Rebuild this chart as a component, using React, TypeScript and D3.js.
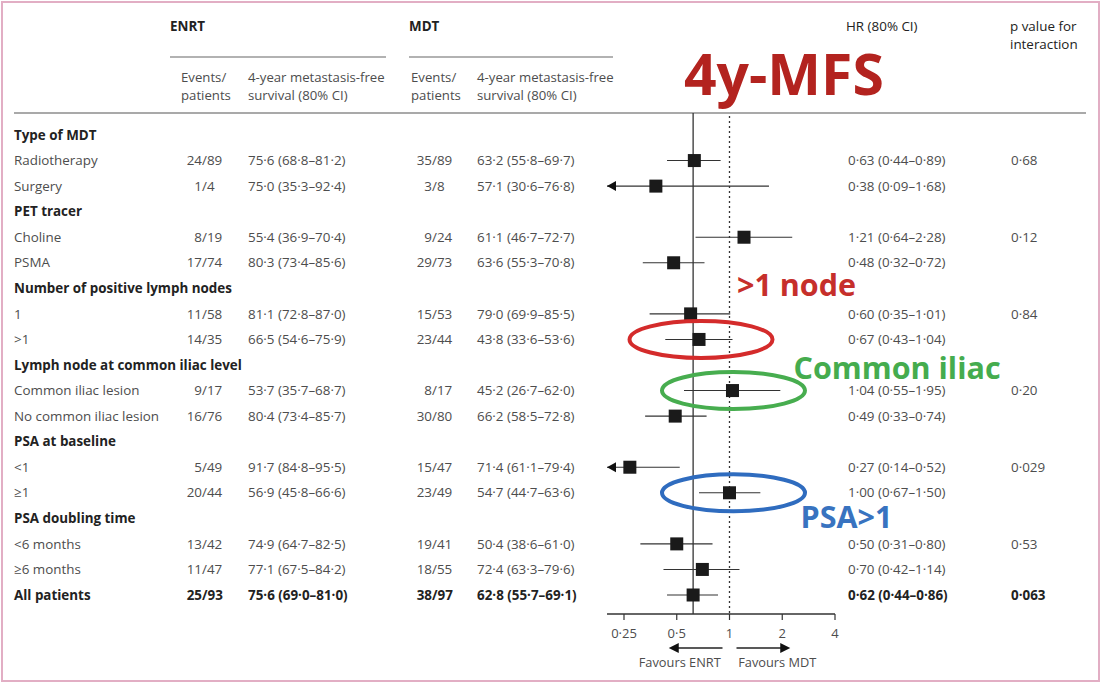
import React, { useEffect, useRef } from "react";
import * as d3 from "d3";

// subgroup rows, in drawing order
const groupNames = [
  "Type of MDT",
  "PET tracer",
  "Number of positive lymph nodes",
  "Lymph node at common iliac level",
  "PSA at baseline",
  "PSA doubling time",
];
const subgroups = [
  "Radiotherapy", "Surgery",
  "Choline", "PSMA",
  "1", ">1",
  "Common iliac lesion", "No common iliac lesion",
  "<1", "≥1",
  "<6 months", "≥6 months",
  "All patients",
];
const groupOf = [0, 0, 1, 1, 2, 2, 3, 3, 4, 4, 5, 5, -1];

const enrtEvents = [24, 1, 8, 17, 11, 14, 9, 16, 5, 20, 13, 11, 25];
const enrtPatients = [89, 4, 19, 74, 58, 35, 17, 76, 49, 44, 42, 47, 93];
const enrtMfs = [75.6, 75.0, 55.4, 80.3, 81.1, 66.5, 53.7, 80.4, 91.7, 56.9, 74.9, 77.1, 75.6];
const enrtMfsLo = [68.8, 35.3, 36.9, 73.4, 72.8, 54.6, 35.7, 73.4, 84.8, 45.8, 64.7, 67.5, 69.0];
const enrtMfsHi = [81.2, 92.4, 70.4, 85.6, 87.0, 75.9, 68.7, 85.7, 95.5, 66.6, 82.5, 84.2, 81.0];

const mdtEvents = [35, 3, 9, 29, 15, 23, 8, 30, 15, 23, 19, 18, 38];
const mdtPatients = [89, 8, 24, 73, 53, 44, 17, 80, 47, 49, 41, 55, 97];
const mdtMfs = [63.2, 57.1, 61.1, 63.6, 79.0, 43.8, 45.2, 66.2, 71.4, 54.7, 50.4, 72.4, 62.8];
const mdtMfsLo = [55.8, 30.6, 46.7, 55.3, 69.9, 33.6, 26.7, 58.5, 61.1, 44.7, 38.6, 63.3, 55.7];
const mdtMfsHi = [69.7, 76.8, 72.7, 70.8, 85.5, 53.6, 62.0, 72.8, 79.4, 63.6, 61.0, 79.6, 69.1];

const hr = [0.63, 0.38, 1.21, 0.48, 0.60, 0.67, 1.04, 0.49, 0.27, 1.00, 0.50, 0.70, 0.62];
const hrLo = [0.44, 0.09, 0.64, 0.32, 0.35, 0.43, 0.55, 0.33, 0.14, 0.67, 0.31, 0.42, 0.44];
const hrHi = [0.89, 1.68, 2.28, 0.72, 1.01, 1.04, 1.95, 0.74, 0.52, 1.50, 0.80, 1.14, 0.86];
const pInteraction = ["0·68", "", "0·12", "", "0·84", "", "0·20", "", "0·029", "", "0·53", "", "0·063"];

const axisTicks = [0.25, 0.5, 1, 2, 4];
const axisTickLabels = ["0·25", "0·5", "1", "2", "4"];

// highlighted subgroups: row index, caption, colour, caption offset from the estimate
const callouts = [
  { row: 5, label: ">1 node", color: "#c62f2b", stroke: "#d42b2b", ox: 2, dx: 38, dy: -43 },
  { row: 6, label: "Common iliac", color: "#45ac4e", stroke: "#47ad4f", ox: 1, dx: 61, dy: -12 },
  { row: 9, label: "PSA>1", color: "#3873c0", stroke: "#2f6cbf", ox: 4, dx: 71, dy: 35 },
];

const W = 1102;
const H = 684;
const FONT = "'Open Sans', 'Noto Sans', sans-serif";
const TEXT = "#4d4d4d";
const DARK = "#222";

const dot = (f: (n: number) => string) => (v: number) => f(v).replace(".", "·");
const f1 = dot(d3.format(".1f"));
const f2 = dot(d3.format(".2f"));
const ci1 = (v: number, lo: number, hi: number) => `${f1(v)} (${f1(lo)}–${f1(hi)})`;
const ci2 = (v: number, lo: number, hi: number) => `${f2(v)} (${f2(lo)}–${f2(hi)})`;

export default function App() {
  const ref = useRef<SVGSVGElement>(null);

  useEffect(() => {
    const svg = d3.select(ref.current);
    svg.selectAll("*").remove();

    // row layout: group header followed by its subgroups
    type Row = { kind: "group" | "sub"; i: number };
    const rows: Row[] = [];
    subgroups.forEach((_, i) => {
      const g = groupOf[i];
      if (g >= 0 && (i === 0 || groupOf[i - 1] !== g)) rows.push({ kind: "group", i: g });
      rows.push({ kind: "sub", i });
    });

    const y = d3.scalePoint<number>().domain(d3.range(rows.length)).range([135, 595]);
    const rowY = (sub: number) => y(rows.findIndex(r => r.kind === "sub" && r.i === sub))!;

    const x = d3.scaleLog().base(2).domain([0.25, 4]).range([624, 835]);
    const xMin = 0.2;
    const axisY = 614;
    const plotTop = 113;
    const fs = 13.4;

    const col = {
      label: 14,
      enrt: 170,
      enrtSlash: 202,
      enrtMfs: 248,
      mdt: 409,
      mdtSlash: 432,
      mdtMfs: 477,
      hr: 848,
      p: 1011,
    };

    svg.append("rect").attr("width", W).attr("height", H).attr("fill", "#fff");
    svg.append("rect")
      .attr("x", 2).attr("y", 2).attr("width", W - 5).attr("height", H - 5)
      .attr("fill", "none").attr("stroke", "#e2aec4").attr("stroke-width", 2);

    const g = svg.append("g").attr("font-family", FONT);

    const text = (tx: number, ty: number, s: string, opts: any = {}) =>
      g.append("text")
        .attr("x", tx).attr("y", ty)
        .attr("dy", "0.35em")
        .attr("font-size", opts.size ?? fs)
        .attr("font-weight", opts.weight ?? 400)
        .attr("fill", opts.fill ?? TEXT)
        .attr("text-anchor", opts.anchor ?? "start")
        .text(s);

    // headers
    text(col.enrt, 26, "ENRT", { weight: 700, fill: DARK });
    text(col.mdt, 26, "MDT", { weight: 700, fill: DARK });
    text(846, 26, "HR (80% CI)", { fill: DARK });
    text(1010, 26, "p value for", { fill: DARK });
    text(1010, 44, "interaction", { fill: DARK });

    [[col.enrt, 386], [col.mdt, 613]].forEach(([a, b]) =>
      g.append("line").attr("x1", a).attr("x2", b).attr("y1", 57).attr("y2", 57)
        .attr("stroke", "#666").attr("stroke-width", 1.2));

    [[181, 248], [411, 477]].forEach(([ev, mfs]) => {
      text(ev, 77, "Events/", { size: 13.2 });
      text(ev, 95, "patients", { size: 13.2 });
      text(mfs, 77, "4-year metastasis-free", { size: 13.2 });
      text(mfs, 95, "survival (80% CI)", { size: 13.2 });
    });

    g.append("line").attr("x1", 14).attr("x2", 1086).attr("y1", plotTop).attr("y2", plotTop)
      .attr("stroke", "#555").attr("stroke-width", 1.2);

    // table body
    rows.forEach((r, k) => {
      const ry = y(k)!;
      if (r.kind === "group") {
        text(col.label, ry, groupNames[r.i], { weight: 700, fill: DARK });
        return;
      }
      const i = r.i;
      const bold = groupOf[i] < 0;
      const o = bold ? { weight: 700, fill: DARK } : {};
      text(col.label, ry, subgroups[i], o);
      text(col.enrtSlash, ry, String(enrtEvents[i]), { ...o, anchor: "end" });
      text(col.enrtSlash, ry, "/" + enrtPatients[i], o);
      text(col.enrtMfs, ry, ci1(enrtMfs[i], enrtMfsLo[i], enrtMfsHi[i]), o);
      text(col.mdtSlash, ry, String(mdtEvents[i]), { ...o, anchor: "end" });
      text(col.mdtSlash, ry, "/" + mdtPatients[i], o);
      text(col.mdtMfs, ry, ci1(mdtMfs[i], mdtMfsLo[i], mdtMfsHi[i]), o);
      text(col.hr, ry, ci2(hr[i], hrLo[i], hrHi[i]), o);
      if (pInteraction[i]) text(col.p, ry, pInteraction[i], o);
    });

    // reference lines: overall estimate (solid) and no effect (dotted)
    const overall = subgroups.length - 1;
    g.append("line")
      .attr("x1", x(hr[overall])).attr("x2", x(hr[overall]))
      .attr("y1", plotTop).attr("y2", axisY)
      .attr("stroke", "#333").attr("stroke-width", 1.3);
    g.append("line")
      .attr("x1", x(1)).attr("x2", x(1))
      .attr("y1", plotTop + 3).attr("y2", axisY)
      .attr("stroke", "#333").attr("stroke-width", 1.3)
      .attr("stroke-dasharray", "2,3");

    // confidence intervals and point estimates
    const sq = 13;
    subgroups.forEach((_, i) => {
      const ry = rowY(i);
      const clipped = hrLo[i] < xMin;
      const x0 = x(Math.max(hrLo[i], xMin));
      g.append("line")
        .attr("x1", x0).attr("x2", x(hrHi[i]))
        .attr("y1", ry).attr("y2", ry)
        .attr("stroke", "#333").attr("stroke-width", 1.1);
      if (clipped) {
        g.append("path")
          .attr("d", `M${x0},${ry}l9,-5v10z`)
          .attr("fill", "#111");
      }
      g.append("rect")
        .attr("x", x(hr[i]) - sq / 2).attr("y", ry - sq / 2)
        .attr("width", sq).attr("height", sq)
        .attr("fill", "#1a1a1a");
    });

    // axis
    const axis = g.append("g").attr("transform", `translate(0,${axisY})`);
    axis.append("line")
      .attr("x1", x(xMin)).attr("x2", x(4))
      .attr("stroke", "#333").attr("stroke-width", 1.3);
    axisTicks.forEach((t, k) => {
      axis.append("line").attr("x1", x(t)).attr("x2", x(t)).attr("y1", 0).attr("y2", 6)
        .attr("stroke", "#333").attr("stroke-width", 1.2);
      axis.append("text")
        .attr("x", x(t)).attr("y", 19).attr("dy", "0.35em")
        .attr("text-anchor", "middle").attr("font-size", 13).attr("fill", TEXT)
        .text(axisTickLabels[k]);
    });

    // favours arrows
    const ay = 648;
    const arrow = (from: number, to: number) => {
      const dir = Math.sign(to - from);
      g.append("line").attr("x1", from).attr("x2", to - dir * 8).attr("y1", ay).attr("y2", ay)
        .attr("stroke", "#222").attr("stroke-width", 1.3);
      g.append("path").attr("d", `M${to},${ay}l${-dir * 10},-5v10z`).attr("fill", "#111");
    };
    arrow(x(1) - 7, x(0.5) - 8);
    arrow(x(1) + 7, x(2) + 8);
    text(x(0.5) + 3, 663, "Favours ENRT", { size: 12.8, anchor: "middle" });
    text(x(2) - 5, 663, "Favours MDT", { size: 12.8, anchor: "middle" });

    // title overlay
    g.append("text")
      .attr("x", 684).attr("y", 95)
      .attr("font-size", 57).attr("font-weight", 700)
      .attr("fill", "#b3231f")
      .text("4y-MFS");

    // highlighted subgroups
    callouts.forEach(c => {
      const cx = x(hr[c.row]);
      const cy = rowY(c.row);
      g.append("ellipse")
        .attr("cx", cx + c.ox).attr("cy", cy)
        .attr("rx", 71.5).attr("ry", 18.5)
        .attr("fill", "none").attr("stroke", c.stroke).attr("stroke-width", 4);
      g.append("text")
        .attr("x", cx + c.dx).attr("y", cy + c.dy)
        .attr("font-size", 30.5).attr("font-weight", 700)
        .attr("fill", c.color)
        .text(c.label);
    });
  }, []);

  return (
    <svg
      ref={ref}
      width={W}
      height={H}
      style={{ position: "absolute", left: 0, top: 0, display: "block" }}
    />
  );
}
